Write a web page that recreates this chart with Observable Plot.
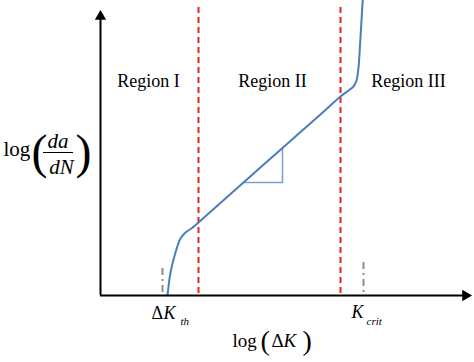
<!DOCTYPE html>
<html>
<head>
<meta charset="utf-8">
<script src="https://cdn.jsdelivr.net/npm/d3@7"></script>
<script src="https://cdn.jsdelivr.net/npm/@observablehq/plot@0.6"></script>
<style>
  html, body { margin: 0; padding: 0; background: #fff; }
  #chart svg { display: block; }
</style>
</head>
<body>
<div id="chart"></div>
<script>
// Schematic fatigue crack growth curve (abstract log units)
const logDK   = [6.7, 7.0, 7.5, 8.0, 8.5, 9.1, 9.8, 14.3, 18.2, 22.5, 24.0, 24.8, 25.3, 25.6, 25.8, 25.95, 26.1, 26.25];
const logDadN = [0.0, 2.3, 4.3, 5.7, 6.3, 6.7, 7.3, 11.3, 14.75, 18.55, 19.9, 20.5, 20.9, 21.5, 22.8, 25.0, 27.5, 30.0];
const regionBounds = [9.8, 24.0];          // dashed red separators
const regionNames = ["Region I", "Region II", "Region III"];
const regionCenters = [4.8, 17.2, 30.8];
const markerX = [6.2, 26.3];               // ΔK_th and K_crit markers
const slopeTri = {x: [14.3, 18.2, 18.2], y: [11.3, 11.3, 14.75]};

const curve = logDK.map((x, i) => ({x, y: logDadN[i]}));
const tri = slopeTri.x.map((x, i) => ({x, y: slopeTri.y[i]}));
const regions = regionNames.map((name, i) => ({name, x: regionCenters[i]}));
const serif = "Liberation Serif, Times New Roman, serif";

const chart = Plot.plot({
  width: 474,
  height: 362,
  marginLeft: 100,
  marginRight: 4,
  marginTop: 0,
  marginBottom: 67,
  x: {domain: [0, 37], axis: null},
  y: {domain: [0, 29.5], axis: null},
  style: {background: "white", overflow: "visible"},
  marks: [
    // region separators
    Plot.ruleX(regionBounds, {y1: 28.8, y2: 0, stroke: "#e8221f", strokeWidth: 2, strokeDasharray: "6,4"}),
    // threshold / critical markers
    Plot.ruleX([markerX[0]], {y1: 2.7, y2: 0, stroke: "#8c8c8c", strokeWidth: 2, strokeDasharray: "7,4,2,4"}),
    Plot.ruleX([markerX[1]], {y1: 3.3, y2: 0, stroke: "#8c8c8c", strokeWidth: 2, strokeDasharray: "7,4,2,4"}),
    // slope triangle
    Plot.line(tri, {x: "x", y: "y", stroke: "#7aa0cf", strokeWidth: 1.5}),
    // growth curve
    Plot.line(curve, {x: "x", y: "y", curve: "catmull-rom", stroke: "#4a7ebb", strokeWidth: 2, clip: true}),
    // axes with arrow heads
    Plot.ruleY([0], {x1: 0, x2: 36.4, stroke: "black", strokeWidth: 2}),
    Plot.ruleX([0], {y1: 0, y2: 27.8, stroke: "black", strokeWidth: 2}),
    Plot.dot([{x: 36.5, y: 0}], {x: "x", y: "y", symbol: "triangle", r: 4.2, fill: "black", stroke: null, rotate: 90}),
    Plot.dot([{x: 0, y: 27.9}], {x: "x", y: "y", symbol: "triangle", r: 4.2, fill: "black", stroke: null}),
    // region labels
    Plot.text(regions, {x: "x", y: 20.9, text: "name", fontSize: 18, fontFamily: serif, textAnchor: "middle", lineAnchor: "bottom", fill: "black"}),
    // y label: log(da/dN)
    Plot.text(["log"], {x: -9.7, y: 14.0, text: d => d, fontSize: 21, fontFamily: serif, textAnchor: "start", lineAnchor: "bottom"}),
    Plot.text(["("], {x: -6.9, y: 12.8, text: d => d, fontSize: 48, fontFamily: serif, textAnchor: "start", lineAnchor: "bottom"}),
    Plot.text([")"], {x: -2.5, y: 12.8, text: d => d, fontSize: 48, fontFamily: serif, textAnchor: "start", lineAnchor: "bottom"}),
    Plot.text(["da"], {x: -4.25, y: 14.8, text: d => d, fontSize: 21, fontStyle: "italic", fontFamily: serif, textAnchor: "middle", lineAnchor: "bottom"}),
    Plot.ruleY([14.3], {x1: -5.7, x2: -2.7, stroke: "black", strokeWidth: 1}),
    Plot.text(["dN"], {x: -3.9, y: 12.2, text: d => d, fontSize: 21, fontStyle: "italic", fontFamily: serif, textAnchor: "middle", lineAnchor: "bottom"}),
    // ΔK_th
    Plot.text(["Δ"], {x: 5.1, y: -2.3, text: d => d, fontSize: 18, fontFamily: serif, textAnchor: "start", lineAnchor: "bottom"}),
    Plot.text(["K"], {x: 6.3, y: -2.3, text: d => d, fontSize: 18, fontStyle: "italic", fontFamily: serif, textAnchor: "start", lineAnchor: "bottom"}),
    Plot.text(["th"], {x: 8.0, y: -2.9, text: d => d, fontSize: 11, fontStyle: "italic", fontFamily: serif, textAnchor: "start", lineAnchor: "bottom"}),
    // K_crit
    Plot.text(["K"], {x: 25.1, y: -2.2, text: d => d, fontSize: 18, fontStyle: "italic", fontFamily: serif, textAnchor: "start", lineAnchor: "bottom"}),
    Plot.text(["crit"], {x: 26.6, y: -2.9, text: d => d, fontSize: 11, fontStyle: "italic", fontFamily: serif, textAnchor: "start", lineAnchor: "bottom"}),
    // x label: log(ΔK)
    Plot.text(["log"], {x: 13.2, y: -5.1, text: d => d, fontSize: 19, fontFamily: serif, textAnchor: "start", lineAnchor: "bottom"}),
    Plot.text(["("], {x: 16.0, y: -5.4, text: d => d, fontSize: 28, fontFamily: serif, textAnchor: "start", lineAnchor: "bottom"}),
    Plot.text(["Δ"], {x: 17.1, y: -5.1, text: d => d, fontSize: 19, fontFamily: serif, textAnchor: "start", lineAnchor: "bottom"}),
    Plot.text(["K"], {x: 18.3, y: -5.1, text: d => d, fontSize: 19, fontStyle: "italic", fontFamily: serif, textAnchor: "start", lineAnchor: "bottom"}),
    Plot.text([")"], {x: 20.2, y: -5.4, text: d => d, fontSize: 28, fontFamily: serif, textAnchor: "start", lineAnchor: "bottom"})
  ]
});
document.getElementById("chart").appendChild(chart);
</script>
</body>
</html>
